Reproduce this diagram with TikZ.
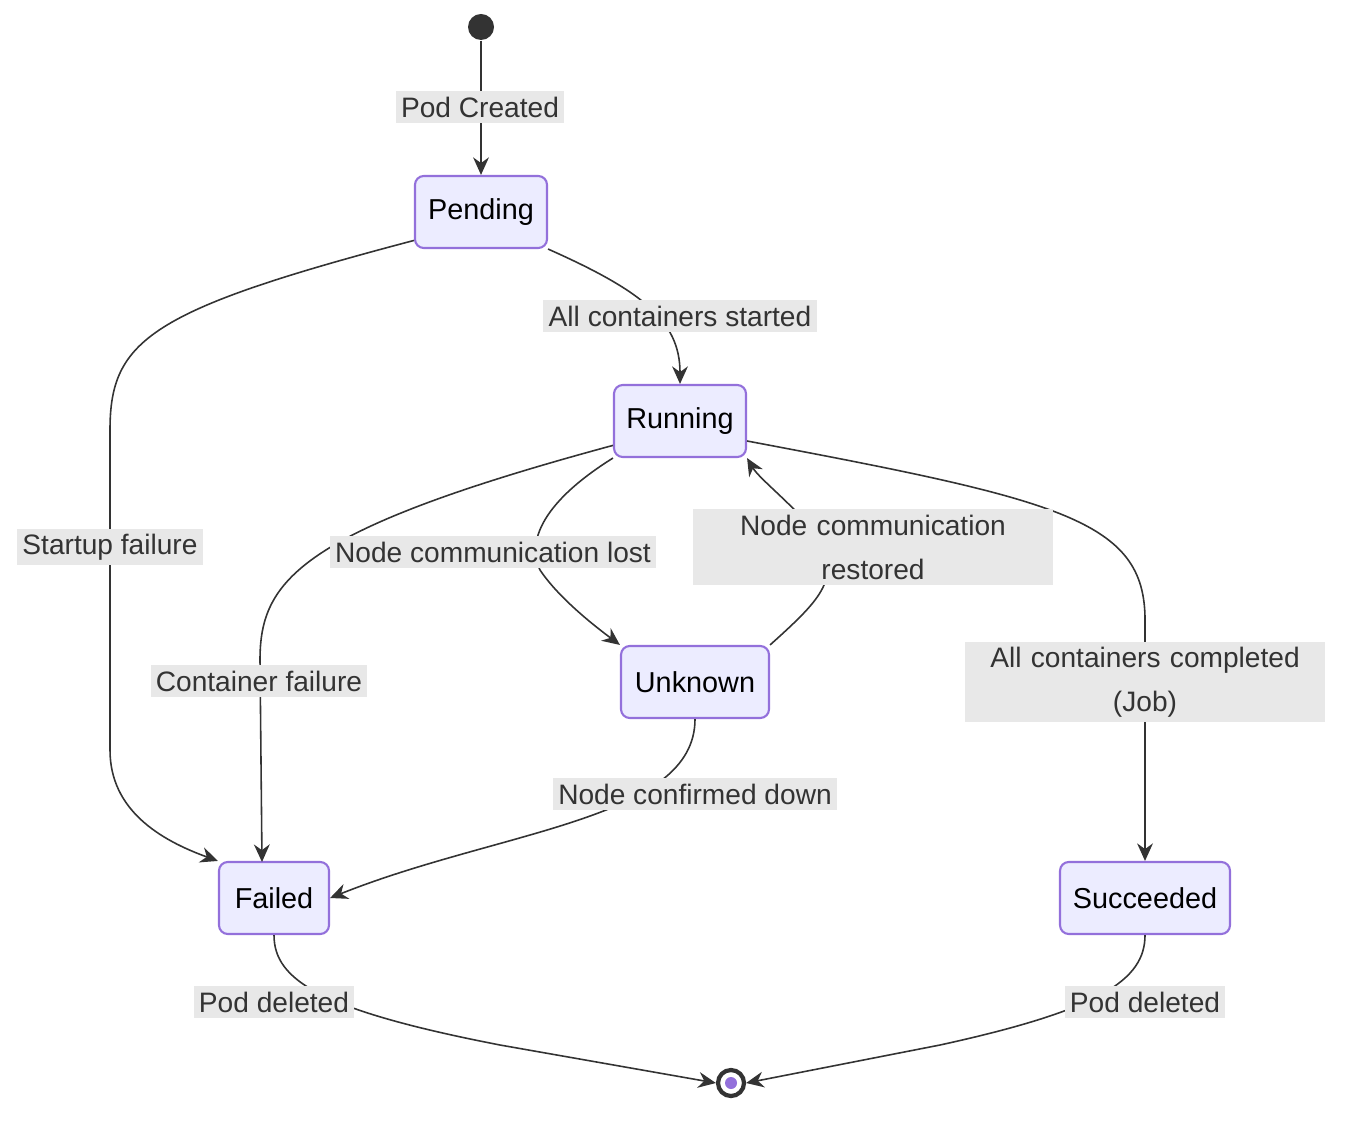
\documentclass[tikz,border=0pt]{standalone}
\usepackage{fontspec}
\setmainfont{Liberation Sans}
\usetikzlibrary{arrows.meta,positioning}
\definecolor{stfill}{HTML}{ECECFF}
\definecolor{stline}{HTML}{9370DB}
\definecolor{lblbg}{HTML}{E8E8E8}
\definecolor{ink}{HTML}{333333}
\tikzset{
  state/.style={draw=stline,fill=stfill,line width=0.6pt,rounded corners=2.5pt,
    minimum height=0.72cm,inner sep=0pt,font=\fontsize{8.2}{10}\selectfont},
  lbl/.style={fill=lblbg,text=ink,inner sep=1.5pt,align=center,
    font=\fontsize{8}{12.5}\selectfont},
  tr/.style={draw=ink,line width=0.45pt,-{Stealth[length=5pt,width=4.5pt]}},
}
\begin{document}
\begin{tikzpicture}
\useasboundingbox (0,0) rectangle (13.58,-11.24);
% states
\node[circle,fill=ink,minimum size=0.26cm,inner sep=0pt] (start) at (4.81,-0.27) {};
\node[state,minimum width=1.32cm] (pend) at (4.81,-2.12) {Pending};
\node[state,minimum width=1.32cm] (run) at (6.80,-4.21) {Running};
\node[state,minimum width=1.48cm] (unk) at (6.95,-6.82) {Unknown};
\node[state,minimum width=1.10cm] (fail) at (2.74,-8.98) {Failed};
\node[state,minimum width=1.70cm] (succ) at (11.45,-8.98) {Succeeded};
\node[circle,draw=ink,line width=1.2pt,fill=white,minimum size=0.26cm,inner sep=0pt] (end) at (7.31,-10.83) {};
\fill[stline] (end) circle (0.06);
% transitions
\draw[tr] (start) -- (pend);
\draw[tr] (pend.south east) .. controls (6.4,-2.9) and (6.8,-3.2) .. (run.north);
\draw[tr] (pend.203) .. controls (1.5,-3.1) and (1.1,-3.4) .. (1.1,-4.3) -- (1.1,-7.5)
  .. controls (1.1,-8.1) and (1.6,-8.4) .. (fail.north west);
\draw[tr] (run.200) .. controls (3.0,-5.3) and (2.6,-5.8) .. (2.6,-6.6) -- (2.62,-8.62);
\draw[tr] (run.south west) .. controls (5.3,-5.1) and (5.3,-5.5) .. (5.4,-5.7)
  .. controls (5.6,-6.0) and (6.0,-6.3) .. (unk.north west);
\draw[tr] (unk.north east) .. controls (8.2,-6.0) and (8.4,-5.8) .. (8.2,-5.4)
  .. controls (8.0,-5.1) and (7.6,-4.8) .. (run.south east);
\draw[tr] (run.east) ++(0,-0.2) .. controls (10.6,-5.0) and (11.45,-5.2) .. (11.45,-6.2) -- (succ.north);
\draw[tr] (unk.south) .. controls (6.95,-8.2) and (5.0,-8.3) .. (fail.east);
\draw[tr] (fail.south) .. controls (2.74,-9.8) and (3.2,-10.1) .. (5.0,-10.45) -- (end.west);
\draw[tr] (succ.south) .. controls (11.45,-9.8) and (11.0,-10.1) .. (9.4,-10.45) -- (end.east);
% labels
\node[lbl] (lcreated) at (4.80,-1.07) {Pod Created};
\node[lbl] (lstarted) at (6.80,-3.16) {All containers started};
\node[lbl] (lstartup) at (1.10,-5.47) {Startup failure};
\node[lbl] (lcont) at (2.59,-6.81) {Container failure};
\node[lbl] (llost) at (4.93,-5.52) {Node communication lost};
\node[lbl,text width=3.5cm] (lrest) at (8.73,-5.47) {Node communication\\restored};
\node[lbl,text width=3.5cm] (ldone) at (11.45,-6.82) {All containers completed\\(Job)};
\node[lbl] (ldown) at (6.95,-7.94) {Node confirmed down};
\node[lbl] (ldel1) at (2.74,-10.02) {Pod deleted};
\node[lbl] (ldel2) at (11.45,-10.02) {Pod deleted};
\end{tikzpicture}
\end{document}
